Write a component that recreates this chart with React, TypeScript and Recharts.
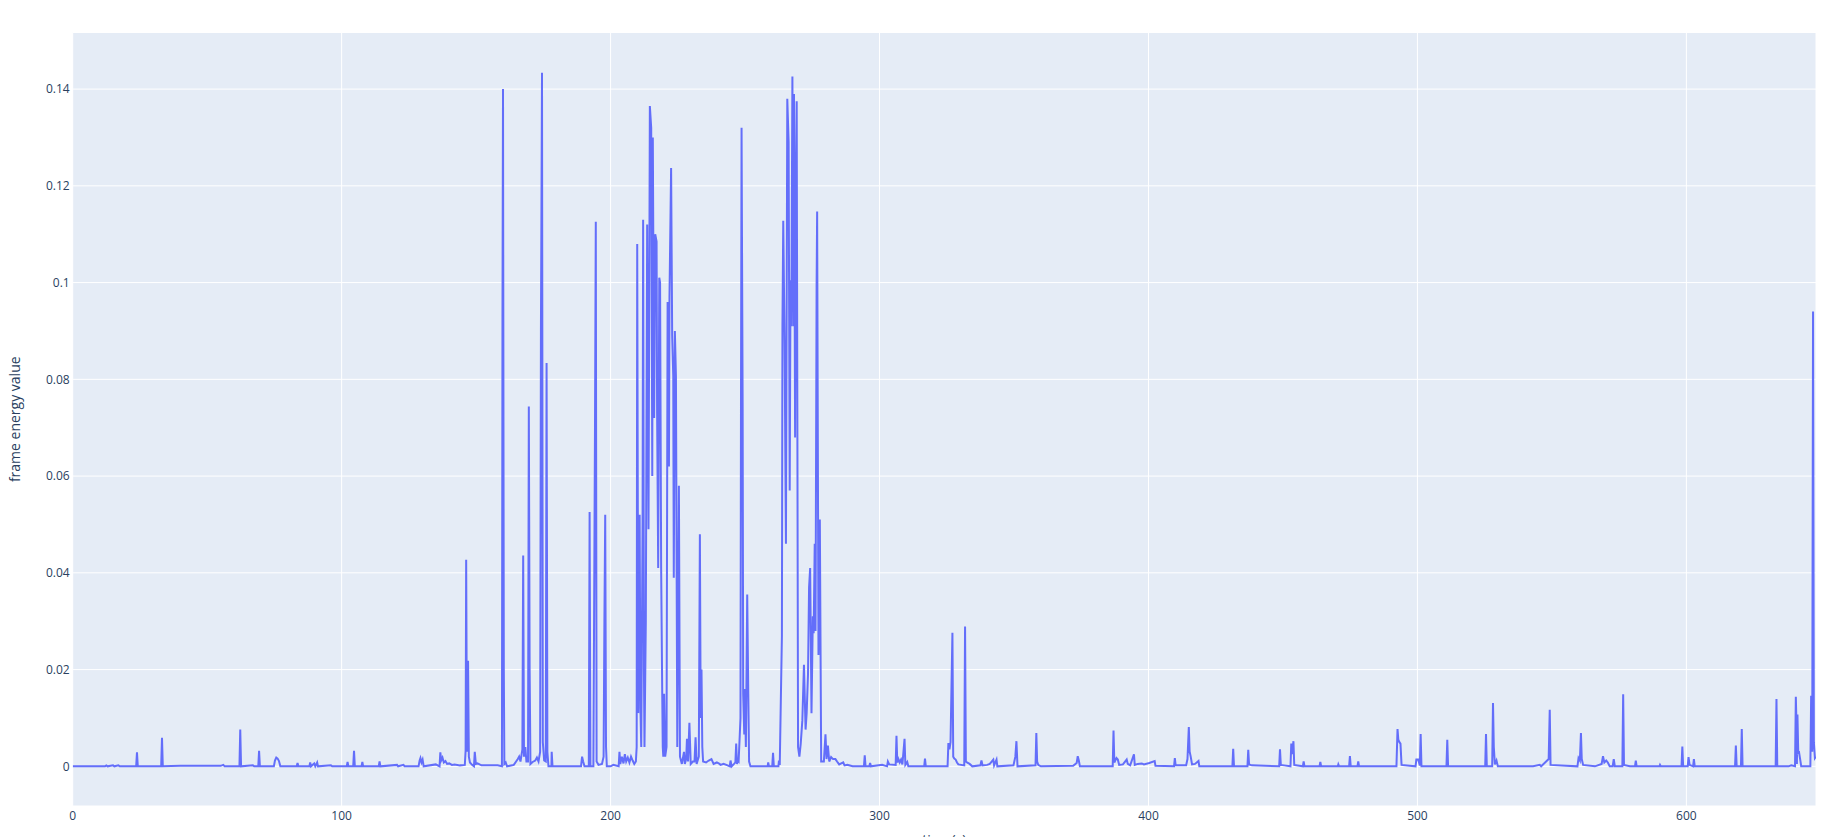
import { LineChart, Line, XAxis, YAxis, CartesianGrid, Label } from "recharts";

// [time (s), frame energy], quiet stretches kept at 0
const introPoints: [number, number][] = [
  [0, 0], [12, 0], [12.5, 0.0002], [13, 0], [15, 0.0002], [15.5, 0], [17, 0.0002], [17.5, 0],
  [23.6, 0], [23.9, 0.0029], [24.2, 0],
  [32.9, 0], [33.2, 0.0059], [33.5, 0],
  [40, 0.0001], [55, 0.0001], [56, 0.0003], [56.5, 0],
  [62, 0], [62.3, 0.0076], [62.6, 0],
  [67, 0.0002], [67.5, 0],
  [69, 0], [69.3, 0.0032], [69.6, 0],
  [74.8, 0], [75.2, 0.0012], [75.7, 0.0018], [76.2, 0.0016], [76.7, 0.0011], [77.2, 0],
  [83.3, 0], [83.6, 0.0007], [83.9, 0],
  [88, 0], [88.3, 0.0008], [88.6, 0], [89.8, 0.0006], [90.2, 0], [90.9, 0.0008], [91.2, 0],
  [96, 0.0002], [96.5, 0],
  [101.9, 0], [102.2, 0.0009], [102.5, 0],
  [104.3, 0], [104.6, 0.0032], [104.9, 0],
  [107.4, 0], [107.7, 0.0009], [108, 0],
  [113.8, 0], [114.1, 0.001], [114.4, 0],
  [120.6, 0.0003], [121, 0], [123, 0.0003], [123.4, 0],
  [128.6, 0], [129, 0.0012], [129.3, 0.0017], [129.7, 0.0008], [130.1, 0.0014], [130.5, 0],
  [135, 0.0004], [136.4, 0], [136.7, 0.0029], [137, 0.0012], [137.5, 0.0018], [138, 0.0008],
  [138.6, 0.0011], [139.2, 0.0005], [140, 0.0006], [141, 0.0003], [142, 0.0004], [144, 0.0002],
];

const firstBurst: [number, number][] = [
  [145.8, 0.0003], [146.1, 0.0033], [146.3, 0.0427], [146.6, 0.003], [147.0, 0.0218], [147.3, 0.002],
  [147.7, 0.0008], [148.5, 0.0003], [149.2, 0], [149.5, 0.003], [149.9, 0.0005], [150.5, 0.0006],
  [152, 0.0002], [158, 0.0002], [159.6, 0], [159.8, 0.093], [160.0, 0.14], [160.3, 0.02], [160.5, 0.0005],
  [161, 0.0008], [161.5, 0], [164, 0.0003], [165.5, 0.0015], [166, 0.002], [166.5, 0.001], [167.2, 0.0035],
  [167.5, 0.0436], [167.8, 0.002], [168.3, 0.004], [168.7, 0.001], [169.3, 0.001], [169.6, 0.0744],
  [169.9, 0.02], [170.2, 0.0005], [171, 0.0009], [172, 0.0012], [172.6, 0.0018], [173.2, 0.001],
  [173.8, 0.003], [174.1, 0.09], [174.5, 0.1434], [174.8, 0.005], [175.3, 0.0012], [175.9, 0.001],
  [176.2, 0.0834], [176.5, 0.003], [176.9, 0], [178, 0], [178.1, 0.003], [178.4, 0], [185, 0], [189, 0],
  [189.4, 0.002], [189.8, 0.001], [190.3, 0], [191.9, 0], [192.2, 0.0526], [192.5, 0], [193.6, 0],
  [194.2, 0.07], [194.5, 0.1126], [194.8, 0.001], [195.5, 0.0003], [196.8, 0.0005], [197.4, 0.002],
  [197.7, 0.03], [198.0, 0.052], [198.3, 0.004], [198.6, 0], [200, 0], [201, 0.0003], [203, 0],
  [203.3, 0.003], [203.6, 0.0005],
];

const mainBurst: [number, number][] = [
  [204.2, 0.002], [204.8, 0.0006], [205.3, 0.0025], [205.8, 0.001], [206.4, 0.0018], [207, 0.0008],
  [207.6, 0.002], [208.2, 0.0012], [208.8, 0.0005], [209.4, 0.001], [209.7, 0.004], [209.9, 0.108],
  [210.3, 0.011], [210.8, 0.052], [211.1, 0.012], [211.4, 0.004], [211.9, 0.051], [212.1, 0.113],
  [212.4, 0.02], [212.6, 0.004], [213.1, 0.03], [213.6, 0.112], [214.1, 0.049], [214.6, 0.1365],
  [215.1, 0.132], [215.5, 0.06], [215.7, 0.13], [216.2, 0.072], [216.6, 0.11], [217.1, 0.1085],
  [217.3, 0.073], [217.7, 0.041], [218.1, 0.101], [218.4, 0.1], [218.8, 0.041], [219.2, 0.015],
  [219.4, 0.004], [219.6, 0.002], [219.9, 0.015], [220.3, 0.002], [220.8, 0.004], [221.2, 0.096],
  [221.7, 0.062], [221.9, 0.097], [222.5, 0.1237], [222.9, 0.089], [223.3, 0.0806], [223.5, 0.039],
  [223.9, 0.09], [224.3, 0.0806], [224.8, 0.004], [225.4, 0.058], [225.8, 0.002], [226.5, 0.0005],
  [227.3, 0.003], [227.6, 0.0005], [228.1, 0.0015], [228.4, 0.0057], [228.8, 0.001], [229.3, 0.009],
  [229.8, 0.0005], [230.6, 0.001], [231.2, 0.001], [231.6, 0.006], [232, 0.0005], [232.8, 0.002],
  [233.2, 0.048], [233.5, 0.01], [233.8, 0.02], [234.1, 0.004], [234.4, 0.001], [235.5, 0.0008],
  [236.5, 0.0012], [237.5, 0.0015], [238.3, 0.0005], [239.5, 0.0008], [240.5, 0.0005],
];

const secondBurst: [number, number][] = [
  [240.9, 0.0003], [242, 0.0005], [243.5, 0.0002], [244.3, 0], [244.6, 0.0012], [245, 0], [245.9, 0.0005],
  [246.4, 0.0008], [246.7, 0.0047], [247, 0.0005], [247.3, 0.0012], [247.6, 0.001], [247.97, 0.0057],
  [248.3, 0.01], [248.5, 0.08], [248.7, 0.132], [249.1, 0.074], [249.3, 0.015], [249.7, 0.0066],
  [249.9, 0.016], [250.3, 0.004], [250.8, 0.0355], [251.2, 0.015], [251.5, 0.001], [252, 0], [256, 0],
  [258.4, 0], [258.6, 0.0008], [258.9, 0], [260.1, 0], [260.4, 0.0028], [260.7, 0], [262.4, 0],
  [262.6, 0.0012], [262.9, 0.0003], [263.3, 0.0137], [263.7, 0.027], [263.9, 0.091], [264.2, 0.1128],
  [264.7, 0.087], [265.2, 0.046], [265.7, 0.138], [266.2, 0.129], [266.6, 0.057], [266.9, 0.1005],
  [267.2, 0.091], [267.6, 0.1426], [268, 0.091], [268.2, 0.139], [268.6, 0.068], [268.9, 0.12],
  [269.2, 0.1375], [269.7, 0.004], [270.2, 0.002], [270.7, 0.0047], [271.3, 0.0095], [271.9, 0.021],
  [272.5, 0.0076], [272.9, 0.011], [273.4, 0.019], [273.8, 0.037], [274.2, 0.041], [274.7, 0.011],
  [275.2, 0.031], [275.5, 0.0275], [275.9, 0.046], [276.2, 0.028], [276.6, 0.099], [276.8, 0.1147],
  [277.3, 0.023], [277.8, 0.051], [278.3, 0.001], [279.3, 0.001], [279.9, 0.0066], [280.3, 0.0015],
  [280.8, 0.0043], [281.3, 0.001], [282, 0.0019], [282.7, 0.0015], [283.6, 0.0015], [284.2, 0.001],
  [285, 0.0004], [286.5, 0.0008], [287, 0.0002], [288, 0.0003],
];

const quietTail: [number, number][] = [
  [290, 0], [294.2, 0], [294.5, 0.0023], [294.8, 0], [296.2, 0], [296.5, 0.0007], [296.8, 0], [301, 0.0003],
  [302.8, 0], [303.1, 0.001], [303.6, 0.0004], [306, 0.0003], [306.3, 0.0063], [306.6, 0.0008], [307, 0.0015],
  [307.5, 0.0008], [308, 0.0014], [308.5, 0.0004], [309.3, 0.0057], [309.6, 0.0003], [310.3, 0.0009],
  [310.7, 0], [316.6, 0], [316.9, 0.0016], [317.2, 0], [325.3, 0], [325.6, 0.0048], [326, 0.0035],
  [326.4, 0.005], [327.1, 0.0276], [327.4, 0.002], [327.8, 0.0016], [328.3, 0.0014], [328.8, 0.0008],
  [329.3, 0.0004], [331.5, 0.0002], [331.8, 0.0289], [332.1, 0.001], [332.5, 0.0008], [333.5, 0.0005],
  [334.5, 0], [337.5, 0.0002], [337.9, 0.0012], [338.3, 0.0002], [340, 0.0003], [341, 0.0005],
  [342.3, 0.0014], [342.6, 0.0002], [343.5, 0.0014], [343.8, 0], [349.8, 0.0002], [350.5, 0.002],
  [350.9, 0.0052], [351.3, 0], [358, 0.0002], [358.3, 0.0069], [358.6, 0.001], [359, 0.0003], [360, 0],
  [372, 0.0001], [373.3, 0.0007], [373.7, 0.0021], [374.1, 0.0012], [374.5, 0], [386.7, 0], [387, 0.0074],
  [387.3, 0.0008], [388.1, 0.0017], [388.6, 0.0014], [389.1, 0.0003], [390.5, 0.0004], [391.9, 0.0014],
  [392.3, 0.0005], [393.2, 0.0002], [394.6, 0.0025], [394.9, 0.0003], [396, 0.0005], [397.5, 0.0006],
  [398.3, 0.0004], [400.3, 0.0007], [402.3, 0.0011], [402.6, 0.0001], [409.5, 0], [409.8, 0.0017],
  [410.1, 0.0002], [414, 0.0002], [414.5, 0.0015], [415, 0.0081], [415.3, 0.0031], [415.7, 0.002],
  [416.2, 0.0004], [417.3, 0.0005], [418.6, 0.0011], [418.9, 0], [431.2, 0], [431.5, 0.0036], [431.8, 0],
  [436.8, 0], [437.1, 0.0034], [437.4, 0.0004], [438.5, 0.0002], [448.6, 0], [448.9, 0.0035],
  [449.2, 0.0003], [450.5, 0.0002], [452.8, 0], [453.1, 0.0047], [453.4, 0.0025], [453.9, 0.0052],
  [454.2, 0.0003], [457.4, 0], [457.7, 0.001], [458, 0], [463.6, 0], [463.9, 0.0009], [464.2, 0],
  [470.4, 0], [470.6, 0.0004], [470.9, 0], [474.6, 0], [474.9, 0.0021], [475.2, 0],
  [477.7, 0], [478, 0.001], [478.3, 0], [492.2, 0], [492.6, 0.0077], [492.9, 0.0055], [493.3, 0.005],
  [493.7, 0.0047], [494.1, 0.0003], [499.3, 0], [499.6, 0.0014], [500.3, 0.0014], [500.9, 0.0002],
  [501.2, 0.0067], [501.5, 0], [510.8, 0], [511.1, 0.0055], [511.4, 0], [525.2, 0], [525.5, 0.0067],
  [525.8, 0], [527.8, 0], [528.1, 0.0131], [528.4, 0.004], [528.8, 0.0004], [529.4, 0.0012], [529.9, 0],
  [543, 0], [545.5, 0.0003], [546, 0], [548.8, 0.0015], [549.2, 0.0117], [549.5, 0.0003], [559.5, 0],
  [559.9, 0.0017], [560.4, 0.0012], [560.8, 0.0069], [561.1, 0.0015], [561.6, 0.0003], [566, 0],
  [568.5, 0.0005], [569, 0.0021], [569.5, 0.0008], [570.2, 0.0012], [570.8, 0.0008], [571.5, 0],
  [572.6, 0], [573, 0.0015], [573.4, 0], [576.2, 0], [576.5, 0.0149], [576.8, 0.0003], [579, 0],
  [580.9, 0], [581.2, 0.0012], [581.5, 0], [590, 0], [590.2, 0.0003], [590.5, 0], [598.2, 0],
  [598.5, 0.0041], [598.8, 0], [600.5, 0], [600.8, 0.0019], [601.2, 0.0003], [602.5, 0], [602.8, 0.0015],
  [603.1, 0], [618.1, 0], [618.4, 0.0043], [618.7, 0], [620.3, 0], [620.6, 0.0077], [620.9, 0], [630, 0],
  [633.2, 0], [633.5, 0.0139], [633.8, 0], [638, 0], [639, 0.0002], [640.4, 0], [640.7, 0.0144],
  [640.9, 0.0096], [641.1, 0.0005], [641.3, 0.0107], [641.6, 0.0028], [641.9, 0.0029], [642.3, 0.0015],
  [642.7, 0], [646.1, 0], [646.4, 0.0146], [646.8, 0.003], [647.1, 0.094], [647.4, 0.005], [647.8, 0.0017],
  [648.2, 0.002],
];

const X_TICKS = [0, 100, 200, 300, 400, 500, 600];
const Y_TICKS = [0, 0.02, 0.04, 0.06, 0.08, 0.1, 0.12, 0.14];

const data = [...introPoints, ...firstBurst, ...mainBurst, ...secondBurst, ...quietTail].map(([t, v]) => ({
  t,
  v,
}));

const FONT = '"Open Sans", verdana, arial, sans-serif';
const TEXT = "#2a3f5f";

export default function App() {
  return (
    <div>
      <style>{`body{margin:0;overflow:hidden}`}</style>
      <LineChart
        width={1834}
        height={837}
        data={data}
        margin={{ top: 32.5, right: 18, bottom: 0, left: 0 }}
      >
        <CartesianGrid fill="#E5ECF6" stroke="#ffffff" strokeWidth={1} />
        <XAxis
          type="number"
          dataKey="t"
          domain={[0, 648.2]}
          ticks={X_TICKS}
          allowDataOverflow
          axisLine={false}
          tickLine={false}
          tickSize={0}
          tickMargin={5}
          height={31}
          tick={{ fill: TEXT, fontSize: 12, fontFamily: FONT }}
        >
          <Label
            value="time(s)"
            position="bottom"
            offset={-2}
            style={{ fill: TEXT, fontSize: 14, fontFamily: FONT }}
          />
        </XAxis>
        <YAxis
          type="number"
          domain={[-0.0082, 0.1517]}
          ticks={Y_TICKS}
          allowDataOverflow
          axisLine={false}
          tickLine={false}
          tickSize={0}
          tickMargin={3}
          width={72.7}
          tickFormatter={(v: number) => String(v)}
          tick={{ fill: TEXT, fontSize: 12, fontFamily: FONT }}
        >
          <Label
            content={(props: any) => {
              const vb = props.viewBox || { y: 32.5, height: 773.5 };
              const cy = vb.y + vb.height / 2;
              return (
                <text
                  x={14}
                  y={cy}
                  transform={`rotate(-90 14 ${cy})`}
                  textAnchor="middle"
                  dominantBaseline="central"
                  fill={TEXT}
                  fontSize={14}
                  fontFamily={FONT}
                >
                  frame energy value
                </text>
              );
            }}
          />
        </YAxis>
        <Line
          type="linear"
          dataKey="v"
          stroke="#636efa"
          strokeWidth={2}
          dot={false}
          activeDot={false}
          isAnimationActive={false}
        />
      </LineChart>
    </div>
  );
}
